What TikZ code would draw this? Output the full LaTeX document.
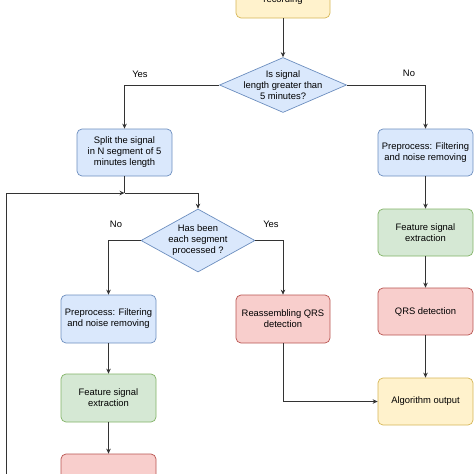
\documentclass[tikz,border=0pt]{standalone}
\usepackage{fontspec}
\setmainfont{Liberation Sans}
\usepackage{xcolor}
\usetikzlibrary{shapes.geometric, arrows.meta, positioning, calc}

\definecolor{yellowfill}{HTML}{FFF2CC}
\definecolor{yellowline}{HTML}{D6B656}
\definecolor{bluefill}{HTML}{DAE8FC}
\definecolor{blueline}{HTML}{6C8EBF}
\definecolor{greenfill}{HTML}{D5E8D4}
\definecolor{greenline}{HTML}{82B366}
\definecolor{redfill}{HTML}{F8CECC}
\definecolor{redline}{HTML}{B85450}

\tikzset{
    box/.style={rectangle, rounded corners=5pt, line width=0.7pt, align=center,
        minimum width=95pt, minimum height=47pt, inner sep=2pt,
        font=\fontsize{9.4}{11}\selectfont},
    startbox/.style={box, fill=yellowfill, draw=yellowline},
    procbox/.style={box, fill=bluefill, draw=blueline},
    featbox/.style={box, fill=greenfill, draw=greenline},
    detbox/.style={box, fill=redfill, draw=redline},
    decision/.style={diamond, fill=bluefill, draw=blueline, line width=0.7pt,
        inner sep=0pt, label={[align=center, font=\fontsize{9.4}{11}\selectfont]center:#1}},
    flow/.style={line width=0.8pt, draw=black!80, -{Stealth[length=5pt, width=4.5pt]}},
    link/.style={line width=0.8pt, draw=black!80},
    answer/.style={font=\fontsize{9.4}{11}\selectfont}
}

\begin{document}
\begin{tikzpicture}[x=1pt, y=-1pt]
    \useasboundingbox (0,0) rectangle (474,474);

    % Input recording
    \node[startbox, minimum width=94pt, label={[yshift=-5.5pt, font=\fontsize{9.4}{11}\selectfont]center:recording}] (input) at (283,-5.5) {};

    % First decision
    \node[decision={Is signal\\length greater than\\5 minutes?}, minimum width=127pt, minimum height=55pt] (longcheck) at (283,85) {};
    \draw[flow] (input) -- (longcheck);

    % Long signal branch
    \node[procbox] (split) at (124.5,152.5) {Split the signal\\in N segment of 5\\minutes length};
    \draw[flow] (longcheck.west) -| (split.north);
    \node[answer] at (140,74) {Yes};

    % Short signal branch
    \node[procbox] (prepR) at (425.5,152.5) {Preprocess: Filtering\\and noise removing};
    \draw[flow] (longcheck.east) -| (prepR.north);
    \node[answer] at (409,73) {No};

    % Segment loop
    \coordinate (merge) at (124.5,193);
    \node[decision={Has been\\each segment\\processed ?}, minimum width=114pt, minimum height=63pt] (segcheck) at (198,240.5) {};
    \draw[link] (split) -- (merge);
    \draw[flow] (merge) -| (segcheck.north);
    \coordinate (loopend) at (6,490);
    \draw[flow] (loopend) |- (merge);

    % Segment not yet processed
    \node[procbox, minimum height=48pt] (prepL) at (108.5,319) {Preprocess: Filtering\\and noise removing};
    \draw[flow] (segcheck.west) -| (prepL.north);
    \node[answer] at (116,224) {No};
    \node[featbox, minimum height=48pt] (featL) at (108.5,398) {Feature signal\\extraction};
    \draw[flow] (prepL) -- (featL);
    \node[detbox, minimum height=48pt] (qrsL) at (108.5,478) {};
    \draw[flow] (featL) -- (qrsL);

    % All segments processed
    \node[detbox, minimum width=94pt, minimum height=48pt] (reasm) at (283,319) {Reassembling QRS\\detection};
    \draw[flow] (segcheck.east) -| (reasm.north);
    \node[answer] at (271,224) {Yes};

    % Right column
    \node[featbox] (featR) at (425.5,232.5) {Feature signal\\extraction};
    \node[detbox] (qrsR) at (425.5,311.5) {QRS detection};
    \node[startbox] (output) at (425.5,401.5) {Algorithm output};
    \draw[flow] (prepR) -- (featR);
    \draw[flow] (featR) -- (qrsR);
    \draw[flow] (qrsR) -- (output);
    \draw[flow] (reasm.south) |- (output.west);
\end{tikzpicture}
\end{document}
